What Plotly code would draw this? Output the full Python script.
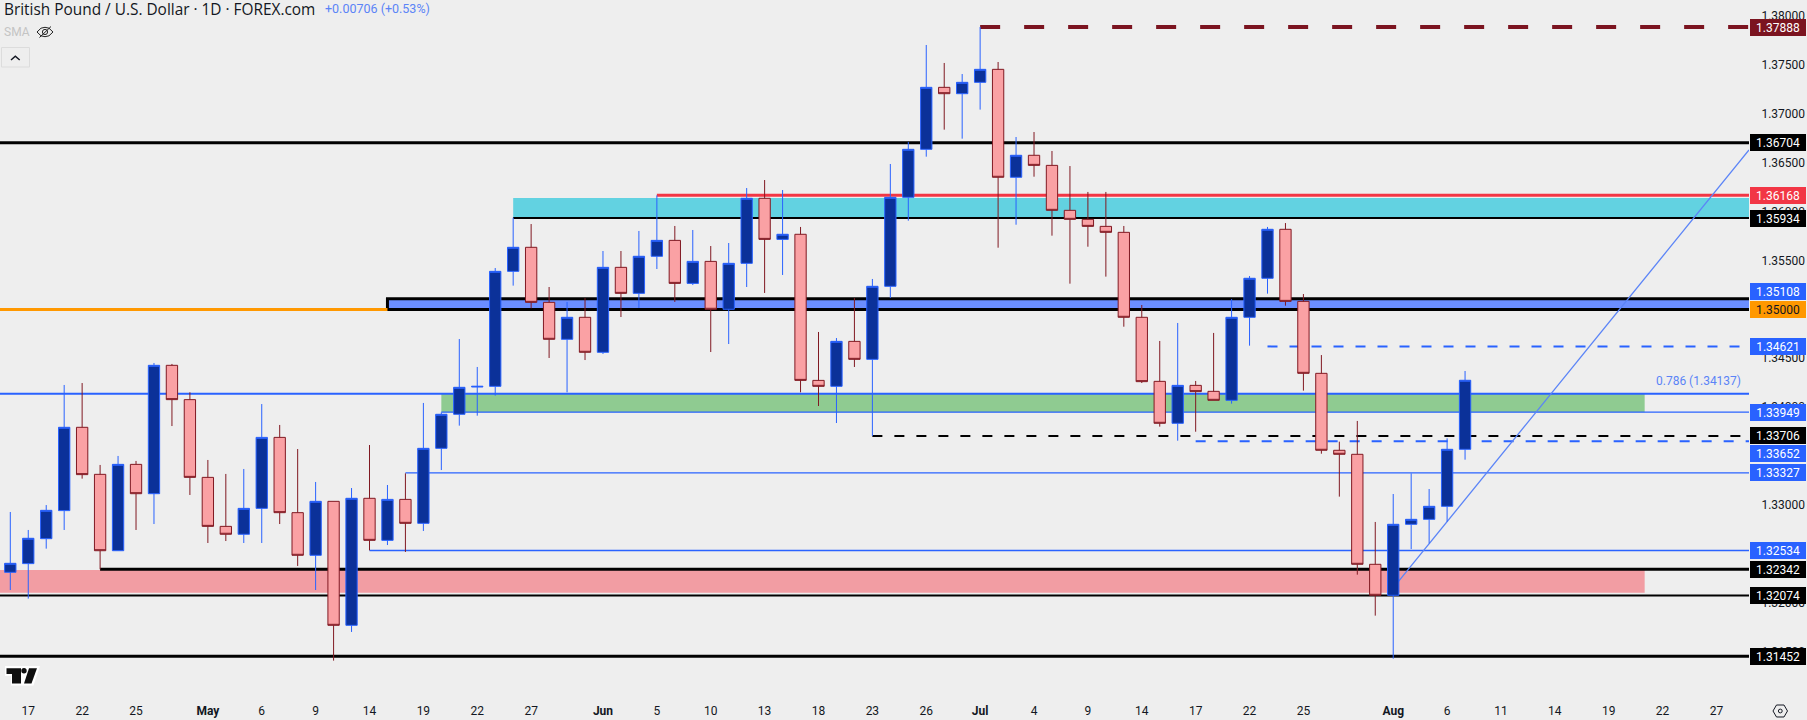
import pandas as pd
import plotly.graph_objects as go

# Daily GBP/USD session calendar, including the empty weekdays to the right of the last bar
calendar = [d.strftime("%Y-%m-%d") for d in pd.bdate_range("2025-04-16", "2025-09-05")]

opens = [1.32311, 1.32400, 1.32655, 1.32942, 1.33794, 1.33313, 1.32532, 1.33415, 1.33115, 1.34428,
         1.34077, 1.33282, 1.32781, 1.32700, 1.32965, 1.33691, 1.32921, 1.32485, 1.33037, 1.31769,
         1.33068, 1.32638, 1.33057, 1.32812, 1.33579, 1.33927, 1.34206, 1.34213, 1.35389, 1.35635,
         1.35072, 1.34694, 1.34919, 1.34561, 1.35430, 1.35164, 1.35543, 1.35706, 1.35266, 1.35491,
         1.35001, 1.35471, 1.36136, 1.35716, 1.35768, 1.34274, 1.34213, 1.34673, 1.34489, 1.35236,
         1.36146, 1.36637, 1.37271, 1.37206, 1.37322, 1.37455, 1.36351, 1.36576, 1.36473, 1.36013,
         1.35921, 1.35849, 1.35788, 1.34919, 1.34264, 1.33835, 1.34223, 1.34162, 1.34070, 1.34919,
         1.35318, 1.35819, 1.35082, 1.34346, 1.33559, 1.33518, 1.32393, 1.32076, 1.32802, 1.32853,
         1.32986, 1.33569]
highs = [1.32928, 1.32744, 1.32999, 1.34227, 1.34247, 1.33409, 1.33501, 1.33450, 1.34452, 1.34442,
         1.34152, 1.33460, 1.33317, 1.33368, 1.34032, 1.33818, 1.33572, 1.33235, 1.33037, 1.33173,
         1.33613, 1.33204, 1.33323, 1.34043, 1.33947, 1.34697, 1.34411, 1.35423, 1.35938, 1.35873,
         1.35229, 1.35076, 1.35116, 1.35597, 1.35597, 1.35802, 1.36166, 1.35853, 1.35812, 1.35648,
         1.35679, 1.36241, 1.36323, 1.36221, 1.35843, 1.34769, 1.34707, 1.35116, 1.35311, 1.36487,
         1.36712, 1.37704, 1.37520, 1.37407, 1.37888, 1.37530, 1.36763, 1.36814, 1.36620, 1.36466,
         1.36201, 1.36201, 1.35853, 1.35045, 1.34677, 1.34861, 1.34268, 1.34759, 1.35106, 1.35341,
         1.35843, 1.35883, 1.35157, 1.34533, 1.33647, 1.33859, 1.32826, 1.33112, 1.33323, 1.33163,
         1.33681, 1.34370]
lows = [1.32130, 1.32042, 1.32553, 1.32744, 1.33269, 1.32342, 1.32532, 1.32744, 1.32805, 1.33807,
        1.33102, 1.32611, 1.32631, 1.32611, 1.32611, 1.32805, 1.32376, 1.32130, 1.31408, 1.31701,
        1.32536, 1.32590, 1.32519, 1.32734, 1.33357, 1.33811, 1.33913, 1.34118, 1.35243, 1.35011,
        1.34503, 1.34152, 1.34482, 1.34544, 1.34922, 1.35014, 1.35413, 1.35076, 1.35249, 1.34564,
        1.34646, 1.35229, 1.35168, 1.35352, 1.34152, 1.34012, 1.33838, 1.34411, 1.33705, 1.35116,
        1.35907, 1.36562, 1.36838, 1.36746, 1.37043, 1.35631, 1.35866, 1.36357, 1.35754, 1.35263,
        1.35641, 1.35335, 1.34823, 1.34247, 1.33801, 1.33657, 1.33749, 1.34070, 1.34036, 1.34629,
        1.35161, 1.35038, 1.34169, 1.33524, 1.33085, 1.32287, 1.31868, 1.31428, 1.32549, 1.32607,
        1.32829, 1.33463]
closes = [1.32403, 1.32659, 1.32945, 1.33794, 1.33310, 1.32532, 1.33415, 1.33115, 1.34428, 1.34077,
          1.33282, 1.32781, 1.32700, 1.32965, 1.33691, 1.32921, 1.32485, 1.33037, 1.31769, 1.33068,
          1.32638, 1.33057, 1.32812, 1.33579, 1.33927, 1.34203, 1.34213, 1.35389, 1.35635, 1.35072,
          1.34694, 1.34919, 1.34561, 1.35430, 1.35164, 1.35543, 1.35706, 1.35266, 1.35491, 1.35001,
          1.35471, 1.36136, 1.35716, 1.35768, 1.34274, 1.34213, 1.34673, 1.34489, 1.35236, 1.36146,
          1.36637, 1.37271, 1.37206, 1.37322, 1.37455, 1.36351, 1.36576, 1.36473, 1.36013, 1.35921,
          1.35849, 1.35788, 1.34919, 1.34261, 1.33835, 1.34223, 1.34159, 1.34070, 1.34919, 1.35318,
          1.35819, 1.35082, 1.34346, 1.33559, 1.33518, 1.32393, 1.32076, 1.32802, 1.32853, 1.32986,
          1.33569, 1.34275]

# Date-axis labels
tick_dates = ["2025-04-17", "2025-04-22", "2025-04-25", "2025-05-01", "2025-05-06", "2025-05-09",
              "2025-05-14", "2025-05-19", "2025-05-22", "2025-05-27", "2025-06-02", "2025-06-05",
              "2025-06-10", "2025-06-13", "2025-06-18", "2025-06-23", "2025-06-26", "2025-07-01",
              "2025-07-04", "2025-07-09", "2025-07-14", "2025-07-17", "2025-07-22", "2025-07-25",
              "2025-08-01", "2025-08-06", "2025-08-11", "2025-08-14", "2025-08-19", "2025-08-22",
              "2025-08-27"]
tick_names = ["17", "22", "25", "<b>May</b>", "6", "9", "14", "19", "22", "27", "<b>Jun</b>", "5",
              "10", "13", "18", "23", "26", "<b>Jul</b>", "4", "9", "14", "17", "22", "25",
              "<b>Aug</b>", "6", "11", "14", "19", "22", "27"]
price_ticks = [1.38, 1.375, 1.37, 1.365, 1.36, 1.355, 1.345, 1.34, 1.33, 1.32, 1.315]

# Support / resistance levels
level_ath = 1.37888
level_top = 1.36704
level_red = 1.36168
level_cyan = 1.35934
level_blue = 1.35108
level_psych = 1.35000
level_dash_up = 1.34621
fib_786 = 1.34137
level_green = 1.33949
level_dash_black = 1.33706
level_dash_blue = 1.33652
level_mid = 1.33327
level_low_mid = 1.32534
level_pink = 1.32342
level_pink_low = 1.32074
level_floor = 1.31452
cyan_upper = 1.36139
pink_upper = 1.32335
pink_lower = 1.32103
trend_start = 1.32151
trend_end = 1.36630

# Right-hand price tags
tag_prices = [level_ath, level_top, level_red, level_cyan, level_blue, level_psych, level_dash_up,
              level_green, level_dash_black, level_dash_blue, level_mid, level_low_mid,
              level_pink, level_pink_low, level_floor]
tag_colors = ["#7B1420", "#000000", "#F23645", "#000000", "#2962FF", "#FF9800", "#2962FF",
              "#2962FF", "#000000", "#2962FF", "#2962FF", "#2962FF",
              "#000000", "#000000", "#000000"]

PLOT_W, PLOT_H = 1749, 690
STEP = 17.96
FIRST = 10.3
BG = "#EEEEEE"
BLUE = "#2962FF"
FONT = "Roboto"


def bar(date):
    return calendar.index(date)


def right_edge():
    return (PLOT_W - FIRST) / STEP


def left_edge():
    return -FIRST / STEP


def hline(y, start, width, color, dash="solid", end=None):
    return dict(type="line", xref="x", yref="y", x0=start, x1=right_edge() if end is None else end,
                y0=y, y1=y, layer="below", line=dict(color=color, width=width, dash=dash))


def zone(top, bottom, start, end, color):
    return dict(type="rect", xref="x", yref="y", x0=start, x1=end, y0=bottom, y1=top,
                layer="below", fillcolor=color, line=dict(width=0))


def page_path(points, close=True):
    # Overlay icons are laid out in page pixels and converted to paper fractions
    parts = [f"{'M' if i == 0 else 'L'}{x / PLOT_W:.5f},{1 - y / PLOT_H:.5f}" for i, (x, y) in enumerate(points)]
    return " ".join(parts) + (" Z" if close else "")


def icon(points, fill=None, stroke=None, width=1, close=True):
    return dict(type="path", xref="paper", yref="paper", path=page_path(points, close), layer="above",
                fillcolor=fill if fill else "rgba(0,0,0,0)",
                line=dict(color=stroke if stroke else "rgba(0,0,0,0)", width=width if stroke else 0))


def disc(cx, cy, r, fill=None, stroke=None, width=1):
    return dict(type="circle", xref="paper", yref="paper", layer="above",
                x0=(cx - r) / PLOT_W, x1=(cx + r) / PLOT_W,
                y0=1 - (cy + r) / PLOT_H, y1=1 - (cy - r) / PLOT_H,
                fillcolor=fill if fill else "rgba(0,0,0,0)",
                line=dict(color=stroke if stroke else "rgba(0,0,0,0)", width=width if stroke else 0))


def label(x, y, text, size, color, anchor="left", family=FONT):
    return dict(xref="paper", yref="paper", x=x / PLOT_W, y=1 - y / PLOT_H, text=text, showarrow=False,
                xanchor=anchor, yanchor="middle", font=dict(family=family, size=size, color=color),
                borderpad=0, borderwidth=0)


fig = go.Figure(go.Candlestick(
    x=calendar[:len(opens)], open=opens, high=highs, low=lows, close=closes,
    increasing=dict(line=dict(color=BLUE, width=1), fillcolor="#0B3199"),
    decreasing=dict(line=dict(color="#801922", width=1), fillcolor="#FAA1A4"),
    whiskerwidth=0, showlegend=False, hoverinfo="skip",
))

shapes = [
    zone(cyan_upper, level_cyan, bar("2025-05-26"), right_edge(), "#62D2E1"),
    zone(fib_786, level_green, bar("2025-05-20"), bar("2025-08-21"), "#8FCB91"),
    zone(pink_upper, pink_lower, left_edge(), bar("2025-08-21"), "#F29DA3"),
    dict(type="rect", xref="x", yref="y", x0=bar("2025-05-15"), x1=right_edge() + 1, y0=level_psych,
         y1=level_blue, layer="below", fillcolor="#6B8EFF", line=dict(color="#000000", width=3)),
    hline(level_psych, left_edge(), 3, "#FF9800", end=bar("2025-05-15")),
    hline(level_ath, bar("2025-07-01"), 4, "#7B1420", "20px,24px"),
    hline(level_top, left_edge(), 3, "#000000"),
    hline(level_red, bar("2025-06-05"), 3, "#F23645"),
    hline(level_cyan, bar("2025-05-26"), 2, "#000000"),
    hline(level_dash_up, bar("2025-07-23"), 2, BLUE, "10px,12px"),
    hline(fib_786, left_edge(), 2, BLUE),
    hline(level_green, bar("2025-05-20"), 1.3, BLUE),
    hline(level_dash_black, bar("2025-06-23"), 2, "#000000", "10px,12px"),
    hline(level_dash_blue, bar("2025-07-17"), 2, BLUE, "10px,12px"),
    hline(level_mid, bar("2025-05-16"), 1.3, BLUE),
    hline(level_low_mid, bar("2025-05-14"), 1.3, BLUE),
    hline(level_pink, bar("2025-04-23"), 3, "#000000"),
    hline(level_pink_low, left_edge(), 2, "#000000"),
    hline(level_floor, left_edge(), 3, "#000000"),
    dict(type="line", xref="x", yref="y", x0=bar("2025-08-01"), x1=right_edge(), y0=trend_start, y1=trend_end,
         layer="below", line=dict(color="#5B84F7", width=1.3)),
    # Watermark logo
    icon([(5, 666), (40, 666), (33.5, 685.5), (11, 685.5), (11, 676), (5, 676)], fill="#FFFFFF"),
    icon([(6.5, 668.3), (21, 668.3), (21, 683.5), (12, 683.5), (12, 674), (6.5, 674)], fill="#0F0F0F"),
    disc(24, 670.8, 2.7, fill="#0F0F0F"),
    icon([(29, 668.3), (37, 668.3), (31.5, 683.5), (24, 683.5)], fill="#0F0F0F"),
    # Collapse button
    dict(type="rect", xref="paper", yref="paper", layer="above", x0=1.5 / PLOT_W, x1=29.5 / PLOT_W,
         y0=1 - 67 / PLOT_H, y1=1 - 47.5 / PLOT_H, fillcolor=BG, line=dict(color="#DCDCDC", width=1)),
    icon([(11, 60), (15.3, 56.3), (19.7, 60)], stroke="#131722", width=1.5, close=False),
    # Hidden-indicator eye
    icon([(37, 32), (41, 28.2), (45, 27.3), (49, 28.2), (53, 32), (49, 35.8), (45, 36.7), (41, 35.8)],
         stroke="#222222", width=1),
    disc(45, 32, 2.6, stroke="#222222"),
    icon([(39.5, 37.5), (51, 26.5)], stroke="#222222", width=1, close=False),
    # Settings hexagon
    icon([(1773, 711), (1776.5, 705), (1784, 705), (1787.5, 711), (1784, 717), (1776.5, 717)],
         stroke="#131722", width=1),
    disc(1780.3, 711, 1.9, stroke="#131722"),
]

annotations = [
    label(4, 9, "British Pound / U.S. Dollar · 1D · FOREX.com", 15.4, "#131722", family="Open Sans"),
    label(325, 8.5, "+0.00706 (+0.53%)", 12.5, "#5B84F7"),
    label(4, 32.5, "SMA", 12, "#C4C4C4"),
    label(1741, 381, "0.786 (1.34137)", 12, "#5B84F7", "right"),
]

# Tags that would overlap a neighbour are nudged clear of it
tag_nudge = {level_blue: 7, level_dash_blue: -12}
for price, color in zip(tag_prices, tag_colors):
    annotations.append(dict(
        xref="paper", yref="y", x=1, y=price, xanchor="left", yanchor="middle", xshift=1,
        yshift=tag_nudge.get(price, 0), text=f"{price:.5f}", showarrow=False, width=56, height=17,
        align="center", valign="middle", bgcolor=color, borderpad=0, borderwidth=0,
        font=dict(family=FONT, size=12, color="#131722" if color == "#FF9800" else "#FFFFFF"),
    ))

fig.update_layout(
    width=1807, height=720, autosize=False,
    margin=dict(l=0, r=1807 - PLOT_W, t=0, b=720 - PLOT_H, pad=0),
    paper_bgcolor=BG, plot_bgcolor=BG,
    boxgap=0.37, boxgroupgap=0,
    hovermode=False, dragmode=False,
    shapes=shapes, annotations=annotations,
    xaxis=dict(type="category", categoryorder="array", categoryarray=calendar,
               range=[left_edge(), right_edge()], rangeslider=dict(visible=False),
               tickmode="array", tickvals=tick_dates, ticktext=tick_names,
               ticks="outside", ticklen=10, tickcolor="rgba(0,0,0,0)", tickangle=0,
               showgrid=False, zeroline=False, showline=False,
               tickfont=dict(family=FONT, size=12, color="#131722"), automargin=False),
    yaxis=dict(side="right", range=[1.37888 - (PLOT_H - 27) / 9778, 1.37888 + 27 / 9778],
               tickmode="array", tickvals=price_ticks, ticktext=[f"{t:.5f}" for t in price_ticks],
               ticks="outside", ticklen=9, tickcolor="rgba(0,0,0,0)",
               showgrid=False, zeroline=False, showline=False,
               tickfont=dict(family=FONT, size=12, color="#131722"), automargin=False),
)

fig.write_html("out.html", config=dict(displayModeBar=False, responsive=False))
